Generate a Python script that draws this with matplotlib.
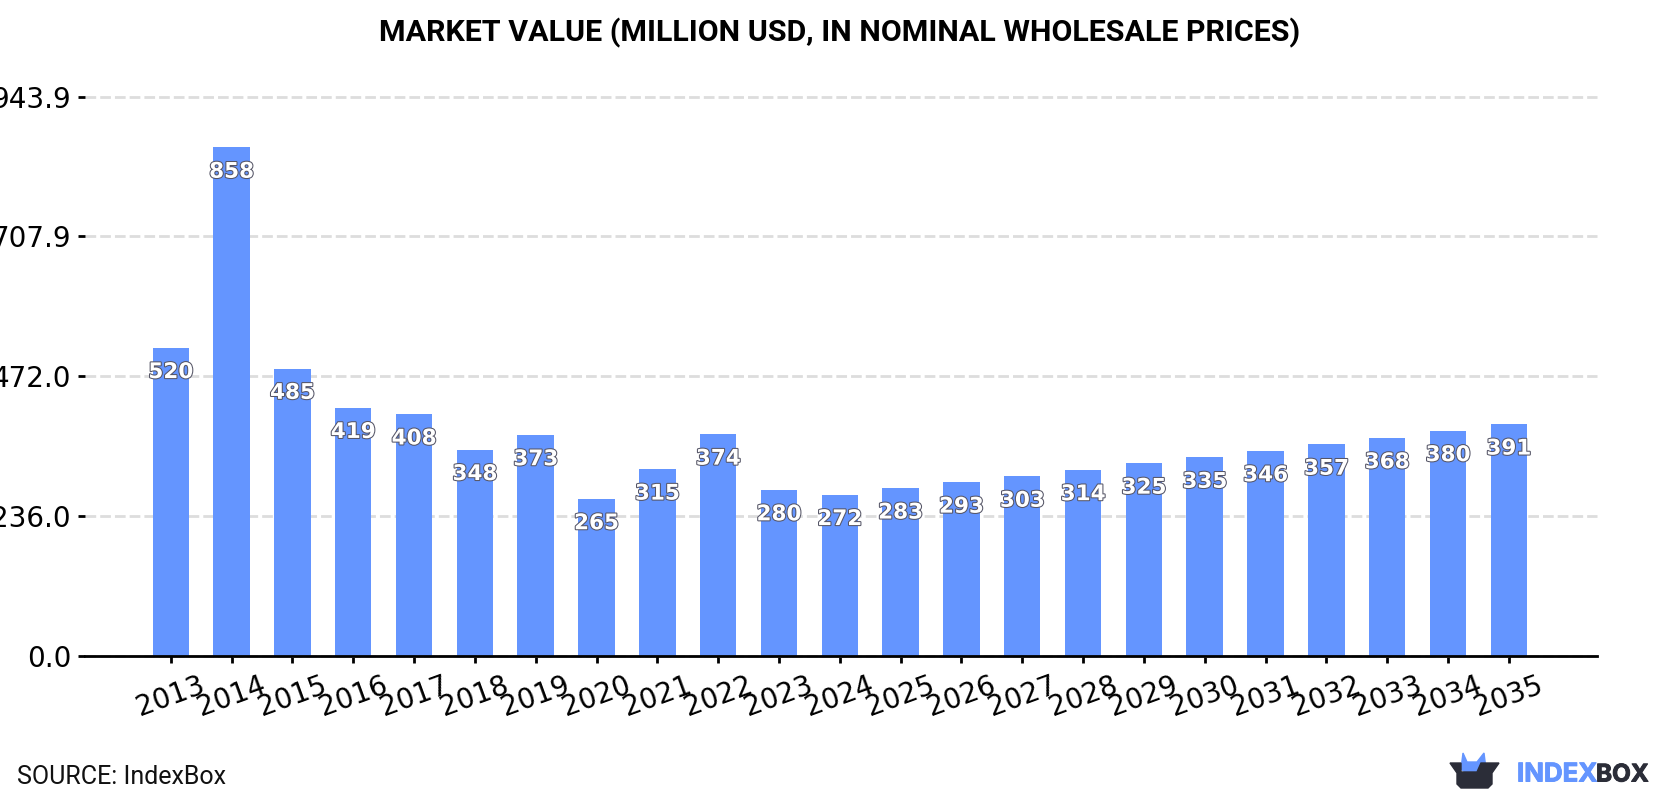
import matplotlib
matplotlib.use("Agg")
from matplotlib import pyplot as plt
from matplotlib import patheffects
from matplotlib.patches import Polygon

years = [2013, 2014, 2015, 2016, 2017, 2018, 2019, 2020, 2021, 2022, 2023, 2024,
         2025, 2026, 2027, 2028, 2029, 2030, 2031, 2032, 2033, 2034, 2035]
values = [520, 858, 485, 419, 408, 348, 373, 265, 315, 374, 280, 272,
          283, 293, 303, 314, 325, 335, 346, 357, 368, 380, 391]
y_ticks = [0.0, 236.0, 472.0, 707.9, 943.9]

W, H = 1680, 800
BLUE = "#6495ff"
DARK = "#2b2d38"

fig = plt.figure(figsize=(W / 100, H / 100), dpi=100)
ax = fig.add_axes([85 / W, 1 - 656 / H, (1597 - 85) / W, (656 - 96.5) / H])

positions = list(range(len(years)))
ax.bar(positions, values, width=0.6, color=BLUE, zorder=2)
ax.set_xlim(-1.41, 23.45)
ax.set_ylim(0, 943.9)

ax.set_yticks(y_ticks)
ax.set_yticklabels([f"{v:.1f}" for v in y_ticks])
ax.set_xticks(positions)
ax.set_xticklabels(years, rotation=20)
ax.tick_params(axis="both", labelsize=20, length=5, width=2, pad=6)
ax.tick_params(axis="y", length=5, pad=5)

ax.grid(axis="y", color="#dddddd", linewidth=2, linestyle=(0, (3.85, 1.45)), zorder=1)
ax.set_axisbelow(True)
for gl in ax.get_ygridlines():
    gl.set_clip_on(False)

for side in ["top", "left", "right"]:
    ax.spines[side].set_visible(False)
ax.spines["bottom"].set_linewidth(2)
ax.spines["bottom"].set_color("black")

# value labels sit just inside the top of each bar
for x, v in zip(positions, values):
    ax.annotate(str(v), (x, v), xytext=(0, -17.5), textcoords="offset points",
                ha="center", va="center", fontsize=15.5, fontweight="bold",
                family="DejaVu Sans", color="white", zorder=4,
                path_effects=[patheffects.withStroke(linewidth=1.5, foreground="#555566")])

fig.text(0.5, 1 - 32.5 / H, "MARKET VALUE (MILLION USD, IN NOMINAL WHOLESALE PRICES)",
         ha="center", va="center", family="Roboto", fontweight="bold", fontsize=21.9)
fig.text(17 / W, 1 - 777 / H, "SOURCE: IndexBox", ha="left", va="center",
         family="Roboto", fontsize=18, color="#111111")

# logo, laid out in pixel coordinates
def px(points):
    return [(x / W, 1 - y / H) for x, y in points]

fig.add_artist(Polygon(px([(1461, 769), (1463, 753), (1467, 762), (1477, 762), (1484, 753),
                           (1486, 769), (1478, 772), (1465, 772)]),
                       closed=True, color=BLUE, transform=fig.transFigure))
fig.add_artist(Polygon(px([(1450, 763), (1461, 763), (1461, 772), (1477, 772), (1481, 763),
                           (1499, 763), (1492, 773), (1492, 784), (1488, 788), (1461, 788),
                           (1457, 784), (1457, 773)]),
                       closed=True, color=DARK, transform=fig.transFigure))
fig.text(1517 / W, 1 - 775 / H, "INDEX", ha="left", va="center", family="Inter",
         fontweight="bold", fontsize=18.6, color=BLUE,
         path_effects=[patheffects.withStroke(linewidth=0.7, foreground=BLUE)])
fig.text(1596 / W, 1 - 775 / H, "BOX", ha="left", va="center", family="Inter",
         fontweight="bold", fontsize=17.5, color=DARK,
         path_effects=[patheffects.withStroke(linewidth=0.7, foreground=DARK)])

fig.savefig("out.png", dpi=100)
